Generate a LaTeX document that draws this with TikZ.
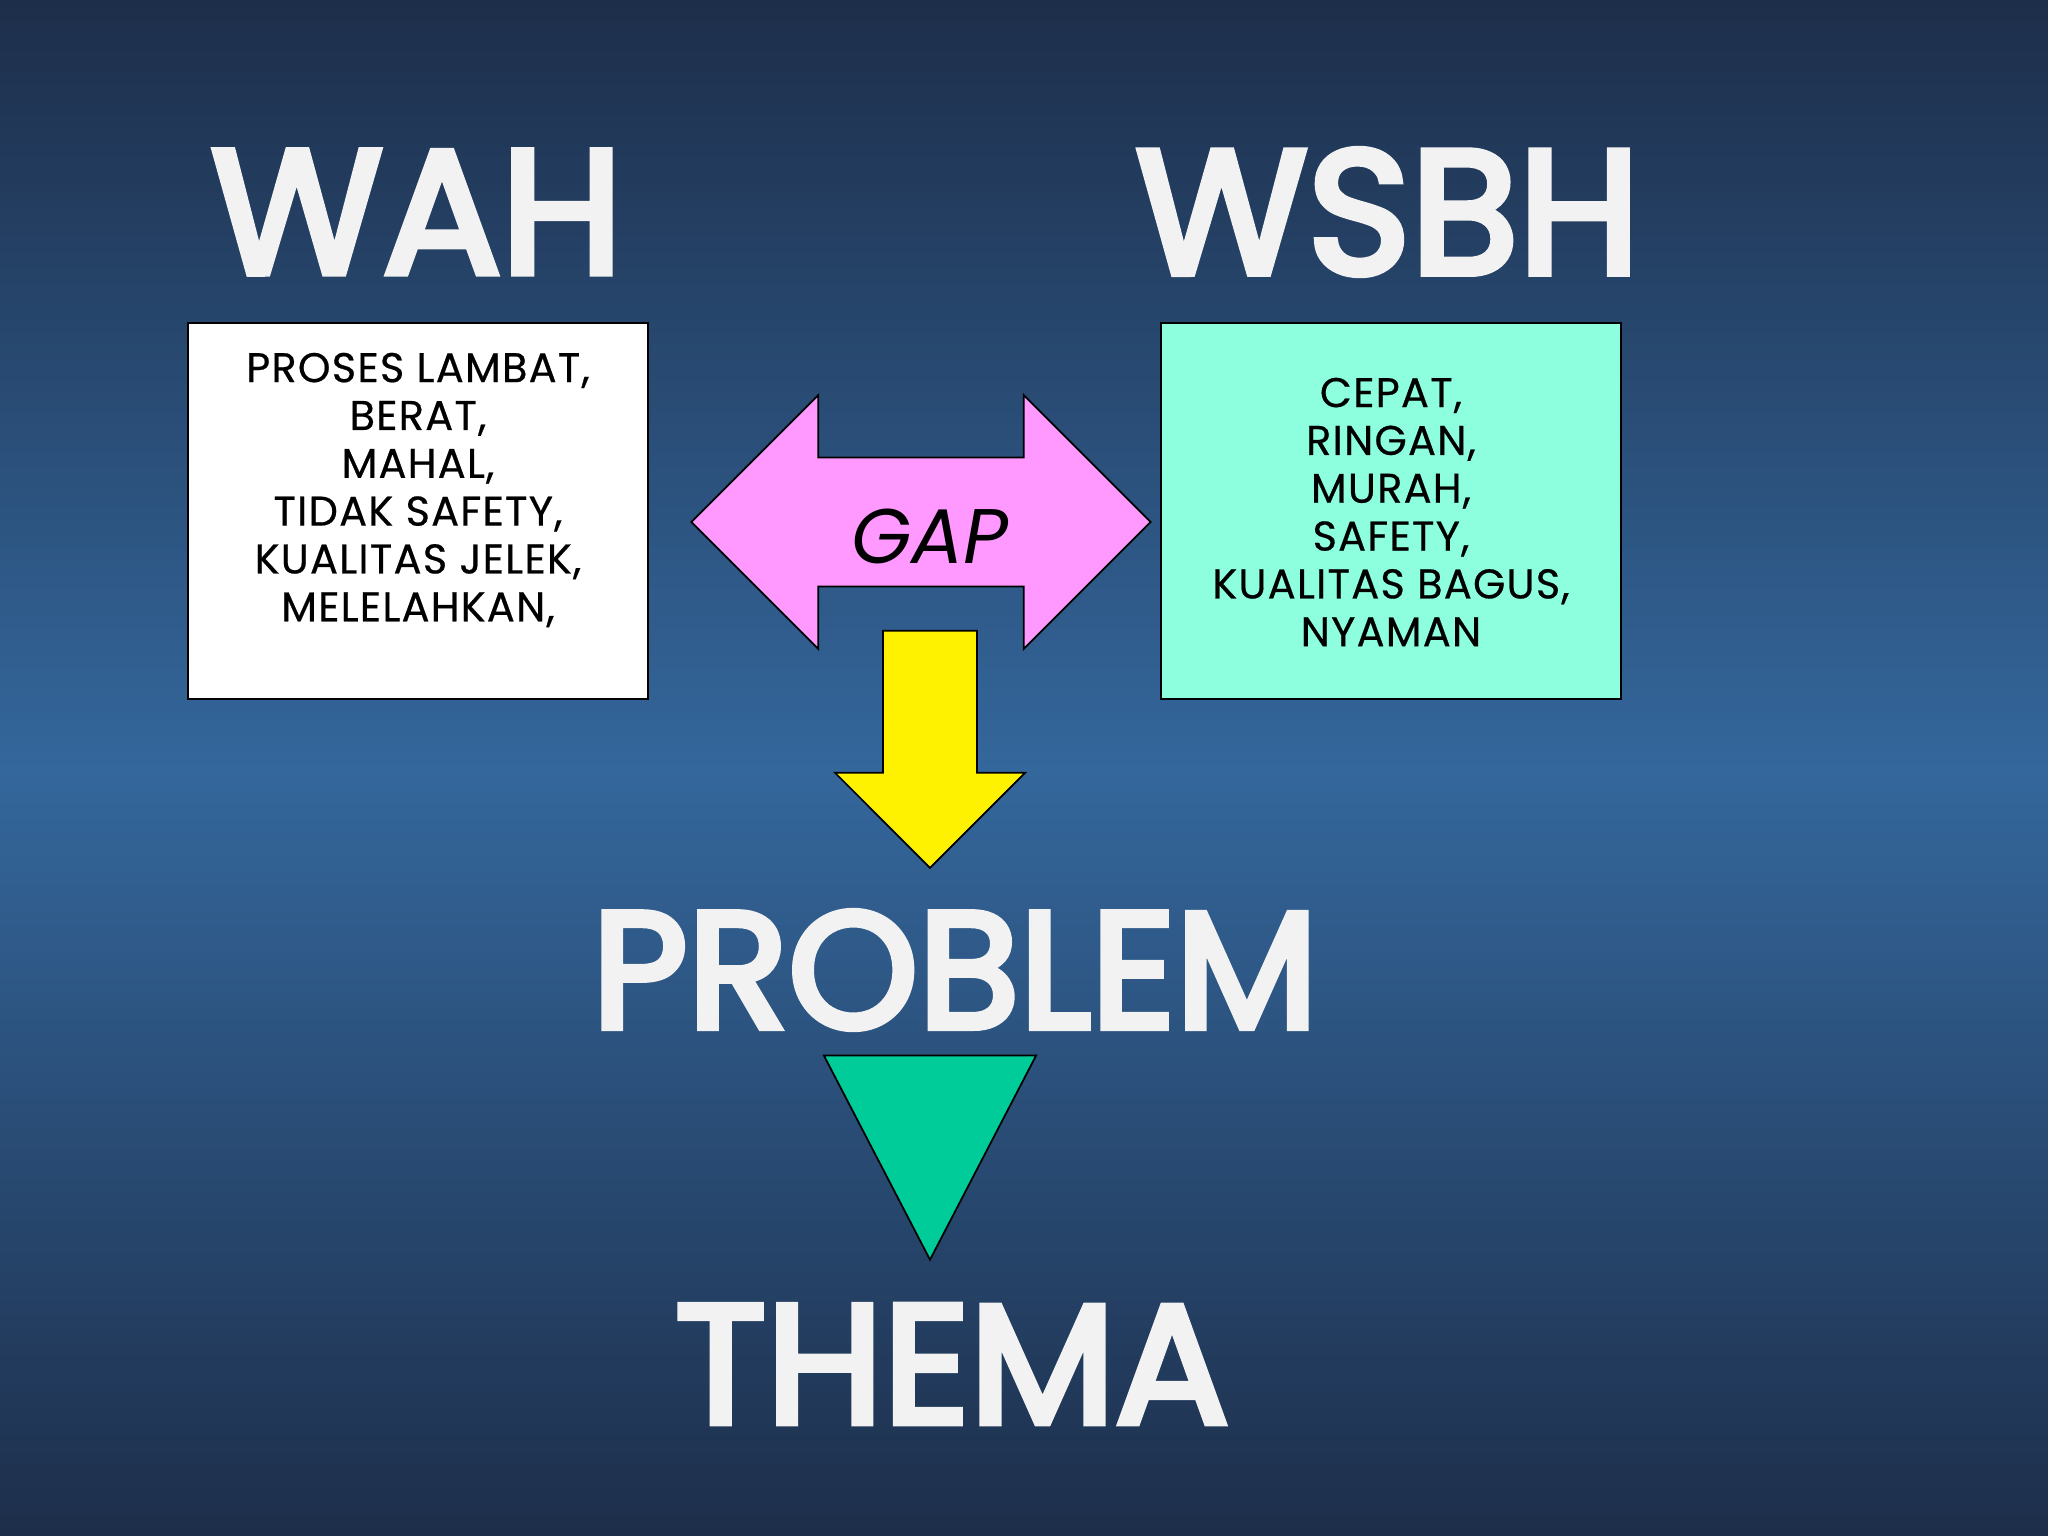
\documentclass[tikz,border=0pt]{standalone}
\usepackage{fontspec}
\setmainfont{Poppins}
\newfontfamily\titlefont{Poppins}[FakeBold=4]
\newfontfamily\boxfont{Poppins}[FakeBold=0.5,LetterSpace=3]
\usetikzlibrary{shapes.arrows,shapes.geometric}
\definecolor{bgdark}{HTML}{1D2E4A}
\definecolor{bglight}{HTML}{34679C}
\definecolor{gappink}{HTML}{FF99FF}
\definecolor{goodcyan}{HTML}{8DFFDF}
\definecolor{tealtri}{HTML}{00CC99}
\definecolor{chalk}{HTML}{F2F2F2}

\begin{document}
\begin{tikzpicture}[x=0.01cm,y=-0.01cm,
    title/.style={font=\titlefont\fontsize{50}{50}\selectfont,text=chalk,inner sep=0pt},
    infobox/.style={rectangle,draw=black,line width=0.6pt,minimum width=4.6cm,minimum height=3.75cm,inner sep=0pt},
    boxtxt/.style={align=center,font=\boxfont\fontsize{11.8}{13.6}\selectfont,inner sep=0pt},
    shp/.style={draw=black,line width=0.5pt,inner sep=0pt},
]
\useasboundingbox (0,0) rectangle (2048,1536);
% background
\shade[top color=bgdark,bottom color=bglight] (0,0) rectangle (2048,770);
\shade[top color=bglight,bottom color=bgdark] (0,770) rectangle (2048,1536);

\node[title] (wah) at (417,212) {WAH};
\node[title] (wsbh) at (1388,212) {WSBH};

\node[infobox,fill=white] (wahbox) at (418,511) {};
\node[boxtxt] (wahtxt) at (418,490) {PROSES LAMBAT,\\BERAT,\\MAHAL,\\TIDAK SAFETY,\\KUALITAS JELEK,\\MELELAHKAN,};
\node[infobox,fill=goodcyan] (wsbhbox) at (1391,511) {};
\node[boxtxt] (wsbhtxt) at (1391,512) {CEPAT,\\RINGAN,\\MURAH,\\SAFETY,\\KUALITAS BAGUS,\\NYAMAN};

\node[shp,double arrow,fill=gappink,minimum height=4.59cm,minimum width=2.52cm,
      double arrow head extend=0.625cm,double arrow tip angle=90,
      text height=1.05cm,text depth=0.22cm,
      font=\itshape\fontsize{22}{22}\selectfont] (gap) at (921,522) {\hspace{0.18cm}GAP};
\node[shp,single arrow,fill=yellow,minimum height=2.37cm,minimum width=1.88cm,
      single arrow head extend=0.48cm,single arrow tip angle=90,
      text height=0.92cm,text depth=0cm,rotate=-90,anchor=tip] (down) at (930,869) {};

\node[title,font=\titlefont\fontsize{47}{47}\selectfont] (problem) at (955,970) {PROBLEM};
\node[shp,isosceles triangle,isosceles triangle stretches,fill=tealtri,
      minimum width=2.12cm,minimum height=2.04cm,rotate=-90,anchor=apex] (tri) at (930,1262) {};
\node[title,font=\titlefont\fontsize{48}{48}\selectfont] (thema) at (952,1364) {THEMA};
\end{tikzpicture}
\end{document}
